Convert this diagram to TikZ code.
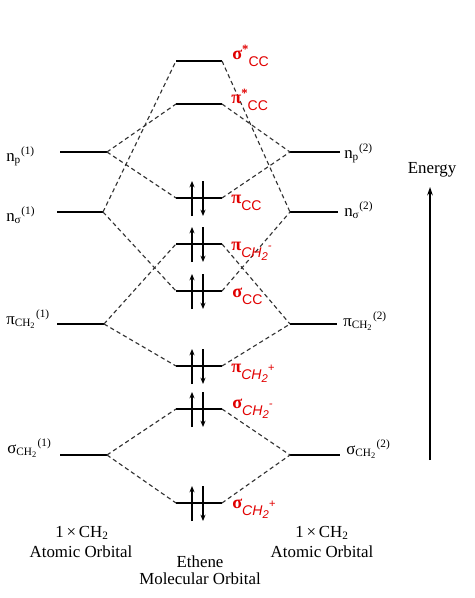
\documentclass[tikz,border=0pt]{standalone}
\usepackage{fontspec}
\setmainfont{Liberation Serif}
\newfontfamily\mosans{Liberation Sans}
\usetikzlibrary{positioning,arrows.meta}
\definecolor{mored}{RGB}{225,0,0}
\newcommand\mosub[1]{\raisebox{-5pt}{\fontsize{10}{10}\selectfont\mosans #1}}
\newcommand\mochsub[1]{\raisebox{-5pt}{\fontsize{10}{10}\selectfont\mosans\itshape
  CH\raisebox{-2.5pt}{\fontsize{8}{8}\selectfont 2}\raisebox{5.5pt}{\fontsize{8}{8}\selectfont #1}}}
\newcommand\mostar{\raisebox{4pt}{\fontsize{9}{9}\selectfont\bfseries *}}
\tikzset{
  level/.style={line width=1.1pt},
  link/.style={line width=0.8pt, dash pattern=on 3pt off 2.2pt, black!80},
  elec/.style={line width=0.9pt, -{Stealth[length=4.5pt,width=3.6pt]}},
  aolabel/.style={anchor=base west, inner sep=0pt},
  molabel/.style={anchor=base west, inner sep=0pt, text=mored, font=\fontsize{13}{15}\selectfont},
}

\begin{document}
\begin{tikzpicture}[x=0.025cm, y=-0.025cm, font=\fontsize{12}{14}\selectfont]
\useasboundingbox (0,0) rectangle (474,598);

% CH2 (1), left
\coordinate (Lnpa) at (60,152);  \coordinate (Lnp) at (107,152);
\coordinate (Lnsa) at (57,212);  \coordinate (Lns) at (103,212);
\coordinate (Lpia) at (57,324);  \coordinate (Lpi) at (104,324);
\coordinate (Lsga) at (60,455);  \coordinate (Lsg) at (107,455);
% CH2 (2), right
\coordinate (Rnp) at (290,152);  \coordinate (Rnpb) at (340,152);
\coordinate (Rns) at (290,212);  \coordinate (Rnsb) at (338,212);
\coordinate (Rpi) at (290,324);  \coordinate (Rpib) at (337,324);
\coordinate (Rsg) at (290,455);  \coordinate (Rsgb) at (340,455);
% ethene
\coordinate (SsL) at (176,61);   \coordinate (SsR) at (222,61);
\coordinate (PsL) at (176,104);  \coordinate (PsR) at (222,104);
\coordinate (PcL) at (176,198);  \coordinate (PcR) at (222,198);
\coordinate (PmL) at (176,244);  \coordinate (PmR) at (222,244);
\coordinate (ScL) at (176,291);  \coordinate (ScR) at (222,291);
\coordinate (PpL) at (176,366);  \coordinate (PpR) at (222,366);
\coordinate (SmL) at (176,409);  \coordinate (SmR) at (222,409);
\coordinate (SpL) at (176,503);  \coordinate (SpR) at (222,503);

\draw[level] (Lnpa) -- (Lnp);
\draw[level] (Lnsa) -- (Lns);
\draw[level] (Lpia) -- (Lpi);
\draw[level] (Lsga) -- (Lsg);
\draw[level] (Rnp) -- (Rnpb);
\draw[level] (Rns) -- (Rnsb);
\draw[level] (Rpi) -- (Rpib);
\draw[level] (Rsg) -- (Rsgb);
\draw[level] (SsL) -- (SsR);
\draw[level] (PsL) -- (PsR);
\draw[level] (PcL) -- (PcR);
\draw[level] (PmL) -- (PmR);
\draw[level] (ScL) -- (ScR);
\draw[level] (PpL) -- (PpR);
\draw[level] (SmL) -- (SmR);
\draw[level] (SpL) -- (SpR);

% correlation lines
\draw[link] (Lnp) -- (PsL);
\draw[link] (Lnp) -- (PcL);
\draw[link] (Lns) -- (SsL);
\draw[link] (Lns) -- (ScL);
\draw[link] (Lpi) -- (PmL);
\draw[link] (Lpi) -- (PpL);
\draw[link] (Lsg) -- (SmL);
\draw[link] (Lsg) -- (SpL);
\draw[link] (PsR) -- (Rnp);
\draw[link] (PcR) -- (Rnp);
\draw[link] (SsR) -- (Rns);
\draw[link] (ScR) -- (Rns);
\draw[link] (PmR) -- (Rpi);
\draw[link] (PpR) -- (Rpi);
\draw[link] (SmR) -- (Rsg);
\draw[link] (SpR) -- (Rsg);

% electron pairs
\draw[elec] ([shift={(16,18)}]PcL) -- ([shift={(16,-17)}]PcL);
\draw[elec] ([shift={(27,-17)}]PcL) -- ([shift={(27,18)}]PcL);
\draw[elec] ([shift={(16,18)}]PmL) -- ([shift={(16,-17)}]PmL);
\draw[elec] ([shift={(27,-17)}]PmL) -- ([shift={(27,18)}]PmL);
\draw[elec] ([shift={(16,18)}]ScL) -- ([shift={(16,-17)}]ScL);
\draw[elec] ([shift={(27,-17)}]ScL) -- ([shift={(27,18)}]ScL);
\draw[elec] ([shift={(16,18)}]PpL) -- ([shift={(16,-17)}]PpL);
\draw[elec] ([shift={(27,-17)}]PpL) -- ([shift={(27,18)}]PpL);
\draw[elec] ([shift={(16,18)}]SmL) -- ([shift={(16,-17)}]SmL);
\draw[elec] ([shift={(27,-17)}]SmL) -- ([shift={(27,18)}]SmL);
\draw[elec] ([shift={(16,18)}]SpL) -- ([shift={(16,-17)}]SpL);
\draw[elec] ([shift={(27,-17)}]SpL) -- ([shift={(27,18)}]SpL);

% labels
\node (lnp) [aolabel] at (6,161) {n\textsubscript{p}\textsuperscript{(1)}};
\node (lns) [aolabel] at (6,221) {n\textsubscript{σ}\textsuperscript{(1)}};
\node (lpi) [aolabel] at (6,324) {π\textsubscript{CH\textsubscript{2}}\textsuperscript{(1)}};
\node (lsg) [aolabel] at (7,453) {σ\textsubscript{CH\textsubscript{2}}\textsuperscript{(1)}};
\node (rnp) [aolabel] at (344,158) {n\textsubscript{p}\textsuperscript{(2)}};
\node (rns) [aolabel] at (344,216) {n\textsubscript{σ}\textsuperscript{(2)}};
\node (rpi) [aolabel] at (343,326) {π\textsubscript{CH\textsubscript{2}}\textsuperscript{(2)}};
\node (rsg) [aolabel] at (346,454) {σ\textsubscript{CH\textsubscript{2}}\textsuperscript{(2)}};

\node (mss) [molabel] at (232,59)  {\textbf{σ}\mostar\mosub{CC}};
\node (mps) [molabel] at (231,103) {\textbf{π}\mostar\mosub{CC}};
\node (mpc) [molabel] at (231,203) {\textbf{π}\mosub{CC}};
\node (mpm) [molabel] at (231,250) {\textbf{π}\mochsub{-}};
\node (msc) [molabel] at (232,297) {\textbf{σ}\mosub{CC}};
\node (mpp) [molabel] at (231,372) {\textbf{π}\mochsub{+}};
\node (msm) [molabel] at (232,408) {\textbf{σ}\mochsub{-}};
\node (msp) [molabel] at (232,508) {\textbf{σ}\mochsub{+}};

\node (lch)  at (82,533)  {1\,×\,CH\textsubscript{2}};
\node (lao)  at (81,552)  {Atomic Orbital};
\node (rch)  at (322,533) {1\,×\,CH\textsubscript{2}};
\node (rao)  at (322,552) {Atomic Orbital};
\node (eth)  at (200,562) {Ethene};
\node (emo)  at (200,579) {Molecular Orbital};

% energy axis
\node (en) at (432,170) {Energy};
\coordinate (ebot) at (430,460);
\coordinate (etop) at (430,187);
\draw[line width=0.8pt, -{Stealth[length=6pt,width=4pt]}] (ebot) -- (etop);
\end{tikzpicture}
\end{document}
